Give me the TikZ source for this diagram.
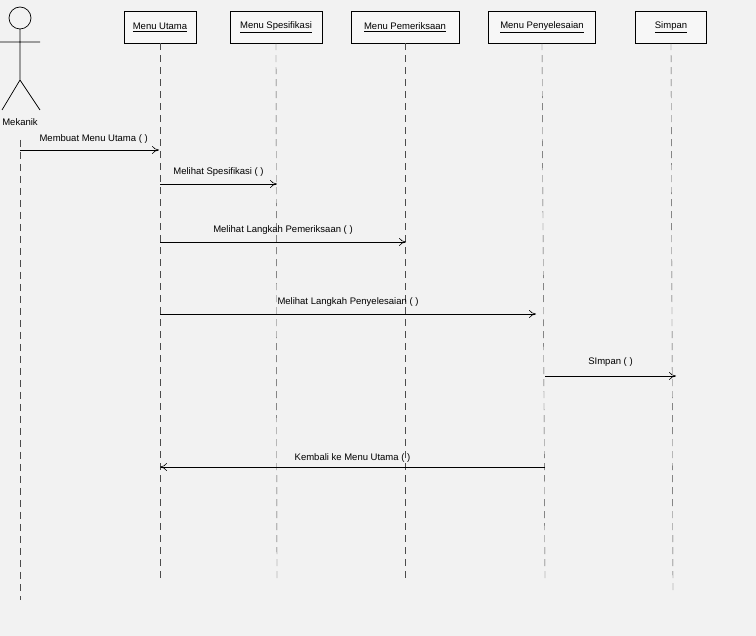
\documentclass[tikz,border=0pt]{standalone}
\usepackage{fontspec}
\setmainfont{Liberation Sans}
\usetikzlibrary{arrows.meta}
\begin{document}
\begin{tikzpicture}[x=1pt,y=-1pt,
  obj/.style={draw,fill=gray!6,minimum height=32pt,inner sep=0pt,font=\fontsize{9.5}{11}\selectfont},
  life/.style={dashed,dash pattern=on 7pt off 5pt,gray!60!black},
  msg/.style={-{To[length=7pt,width=8pt]},line width=0.6pt},
  lab/.style={font=\fontsize{9.5}{11}\selectfont,anchor=south}]
\fill[gray!10] (0,0) rectangle (756,636);
\useasboundingbox (0,0) rectangle (756,636);
% actor
\draw[line width=0.7pt] (20,18) circle (11);
\draw[line width=0.7pt] (20,29) -- (20,80) (0,42) -- (40,42) (2,110) -- (20,80) -- (40,110);
\node[font=\fontsize{9.5}{11}\selectfont] (mek) at (20,122) {Mekanik};
\coordinate (a0) at (20,140); \coordinate (a1) at (20,600);
\draw[life] (a0) -- (a1);
% objects
\node[obj,minimum width=72pt] (mu) at (160,27) {\underline{Menu Utama}};
\node[obj,minimum width=92pt] (ms) at (276,27) {\underline{Menu Spesifikasi}};
\node[obj,minimum width=108pt] (mp) at (405,27) {\underline{Menu Pemeriksaan}};
\node[obj,minimum width=107pt] (mn) at (542,27) {\underline{Menu Penyelesaian}};
\node[obj,minimum width=71pt] (si) at (671,27) {\underline{Simpan}};
\coordinate (mue) at (160,580); \coordinate (mse) at (277,580);
\coordinate (mpe) at (405,580); \coordinate (mne) at (545,580);
\coordinate (sie) at (673,590);
\draw[life] (mu.south) -- (mue);
\draw[life] (ms.south) -- (mse);
\draw[life] (mp.south) -- (mpe);
\draw[life] (mn.south) -- (mne);
\draw[life] (si.south) -- (sie);
% messages
\coordinate (p1a) at (20,150); \coordinate (p1b) at (159,150);
\draw[msg] (p1a) -- node[lab,pos=0.53,yshift=3pt]{Membuat Menu Utama ( )} (p1b);
\coordinate (p2a) at (160,184); \coordinate (p2b) at (277,184);
\draw[msg] (p2a) -- node[lab,pos=0.5,yshift=4pt]{Melihat Spesifikasi ( )} (p2b);
\coordinate (p3a) at (160,242); \coordinate (p3b) at (406,242);
\draw[msg] (p3a) -- node[lab,pos=0.5,yshift=4pt]{Melihat Langkah Pemeriksaan ( )} (p3b);
\coordinate (p4a) at (160,314); \coordinate (p4b) at (536,314);
\draw[msg] (p4a) -- node[lab,pos=0.5,yshift=4pt]{Melihat Langkah Penyelesaian ( )} (p4b);
\coordinate (p5a) at (545,376); \coordinate (p5b) at (676,376);
\draw[msg] (p5a) -- node[lab,pos=0.5,yshift=6pt]{SImpan ( )} (p5b);
\coordinate (p6a) at (545,467); \coordinate (p6b) at (160,467);
\draw[msg] (p6a) -- node[lab,pos=0.5,yshift=1pt]{Kembali ke Menu Utama ( )} (p6b);
\end{tikzpicture}
\end{document}
